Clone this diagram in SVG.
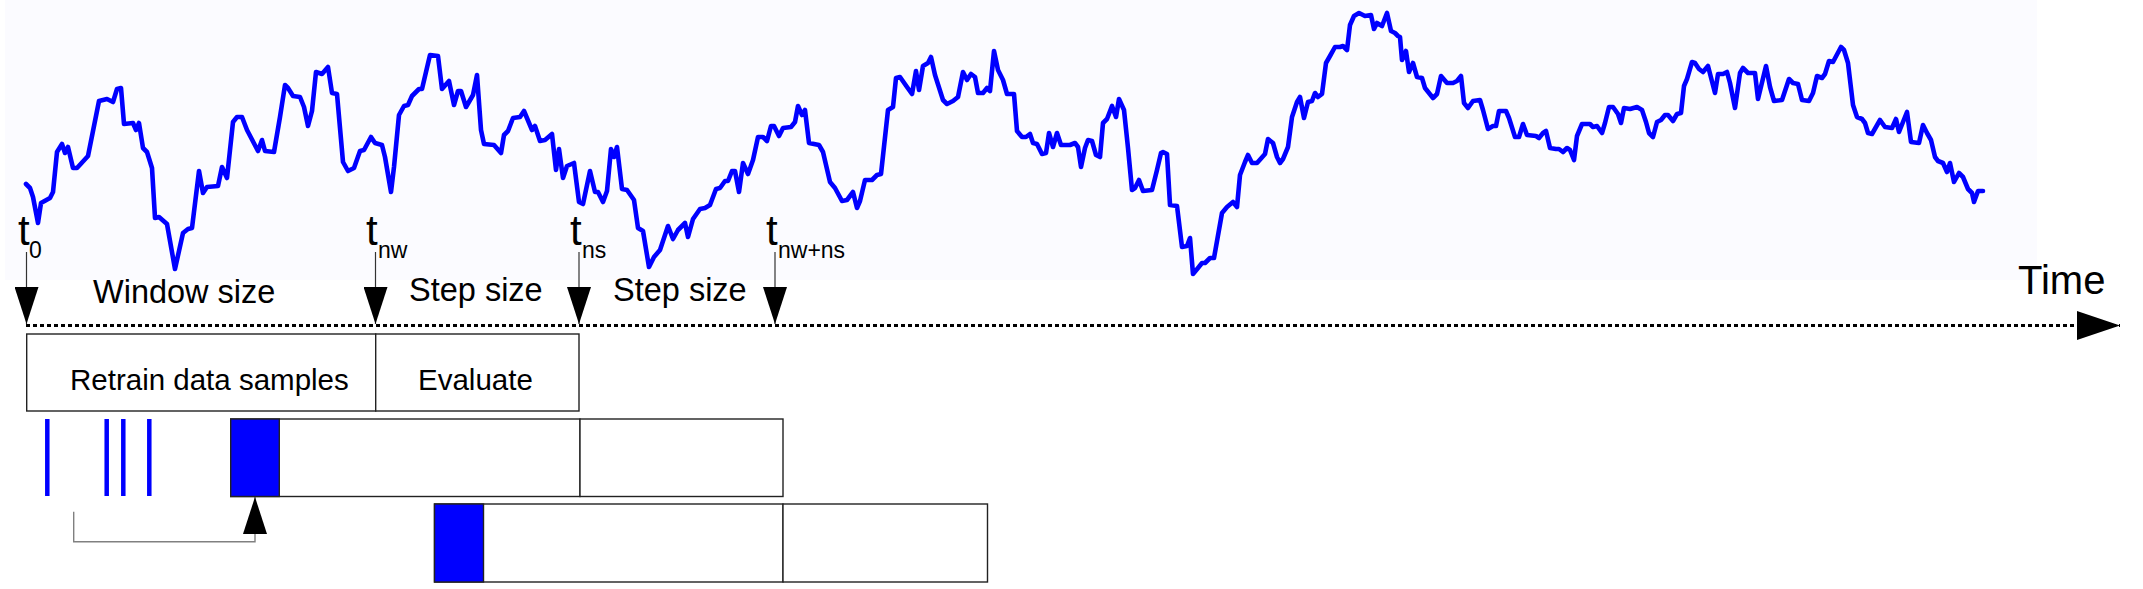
<svg xmlns="http://www.w3.org/2000/svg" width="2143" height="589" viewBox="0 0 2143 589">
<style>
text{font-family:"Liberation Sans",Arial,sans-serif;fill:#000}
.t{font-size:42px}
.sub{font-size:23px}
.lbl{font-size:32.5px}
.cell{font-size:29.5px}
.box{fill:#fff;stroke:#222;stroke-width:1.4}
.blue{fill:#0000ff;stroke:#222;stroke-width:1.4}
.bar{stroke:#0000ff;stroke-width:4.5}
.tick{stroke:#333;stroke-width:1.2;fill:none}
</style>
<defs>
<marker id="ah" viewBox="0 0 37 24" refX="37" refY="12" markerWidth="37" markerHeight="24" markerUnits="userSpaceOnUse" orient="auto">
<path d="M0,0 L37,12 L0,24 Z" fill="#000"/>
</marker>
<marker id="ahTime" viewBox="0 0 43 29" refX="43" refY="14.5" markerWidth="43" markerHeight="29" markerUnits="userSpaceOnUse" orient="auto">
<path d="M0,0 L43,14.5 L0,29 Z" fill="#000"/>
</marker>
</defs>
<rect x="5" y="0" width="2032" height="280" fill="#fbfbff"/>
<g id="series">
<polyline fill="none" stroke="#0000ff" stroke-width="4.6" stroke-linejoin="round" stroke-linecap="round" points="26,184 30,188 33,197 38,223 41,203 50,198 53,192 57,152 62,144 65,153 68,147 73,168 77,168 88,156 99,101 107,99 113,102 117,89 121,88 124,124 133,123 136,130 139,123 143,148 147,152 152,168 155,218 159,217 167,224 175,269 183,233 188,229 192,228 199,171 203,193 207,187 218,186 222,167 227,178 233,122 237,117 242,117 247,130 258,151 262,140 265,151 274,152 280,117 285,85 288,88 293,96 300,97 304,107 308,126 312,111 316,72 322,74 328,67 332,93 337,94 343,162 348,171 354,168 360,151 364,150 371,137 375,143 382,145 385,157 391,192 394,167 399,115 404,106 408,105 412,96 419,89 422,89 430,55 438,56 442,89 449,81 454,105 458,91 461,91 466,107 473,95 477,75 481,130 484,144 494,145 501,153 504,135 508,131 513,118 520,117 524,111 532,130 535,126 540,141 545,140 552,134 556,170 559,149 563,178 567,166 574,163 579,202 583,204 590,171 595,192 598,192 603,202 607,191 611,149 614,157 617,147 622,189 627,190 634,200 638,228 643,231 649,267 654,257 660,250 668,226 673,239 678,230 685,223 688,237 693,219 700,209 705,208 710,205 716,189 720,188 725,181 728,181 732,171 735,171 739,192 743,163 748,174 753,160 758,137 763,137 767,141 771,126 774,126 779,136 783,128 791,127 795,122 798,106 802,115 805,110 809,143 819,145 823,152 830,182 835,188 842,201 847,200 853,192 857,208 860,201 865,180 872,180 877,175 881,174 888,110 893,107 896,78 900,77 907,87 912,94 916,71 919,90 923,66 928,63 931,57 935,75 943,100 947,104 953,101 958,97 963,72 967,80 971,74 975,77 978,93 983,93 987,88 990,91 994,51 998,70 1003,80 1007,94 1014,94 1017,131 1022,137 1026,137 1030,134 1033,143 1037,144 1042,154 1046,153 1049,133 1053,147 1057,133 1061,145 1070,145 1075,143 1078,147 1081,167 1085,148 1088,140 1092,141 1096,155 1100,157 1103,123 1107,119 1112,106 1116,117 1119,99 1124,110 1128,148 1132,190 1135,188 1139,180 1143,191 1152,190 1157,170 1161,153 1163,152 1167,154 1170,205 1177,206 1182,247 1187,246 1190,238 1193,274 1198,268 1202,263 1205,263 1210,258 1214,258 1222,213 1227,207 1233,202 1237,207 1240,175 1245,162 1248,155 1252,163 1257,163 1265,154 1268,139 1273,143 1277,157 1280,163 1283,159 1288,147 1292,117 1297,102 1300,97 1304,118 1308,102 1312,101 1315,93 1318,97 1322,94 1326,63 1330,56 1335,47 1340,47 1343,46 1347,50 1350,25 1354,16 1359,13 1365,16 1371,15 1374,29 1377,23 1382,26 1387,13 1391,31 1395,33 1398,36 1400,37 1402,60 1406,51 1409,72 1413,63 1417,77 1422,78 1425,88 1433,98 1437,94 1441,76 1447,83 1453,83 1457,81 1461,76 1464,103 1468,108 1473,101 1480,100 1483,110 1488,129 1493,126 1496,126 1499,111 1506,111 1509,118 1515,137 1519,137 1523,124 1527,135 1536,136 1539,138 1543,133 1546,131 1550,148 1556,149 1559,149 1563,152 1567,148 1570,150 1574,160 1577,136 1582,124 1590,124 1593,127 1597,126 1602,133 1605,123 1609,107 1613,107 1618,114 1621,123 1624,108 1630,109 1637,107 1642,110 1646,122 1649,133 1653,137 1657,122 1661,120 1665,115 1668,115 1673,121 1677,114 1681,113 1684,86 1687,79 1692,62 1695,63 1699,69 1703,72 1708,66 1715,93 1718,74 1723,74 1727,72 1730,83 1735,108 1740,73 1743,68 1748,73 1755,73 1758,99 1766,66 1770,87 1774,101 1782,100 1789,79 1793,83 1798,84 1802,100 1809,101 1813,93 1817,76 1822,78 1825,74 1829,61 1833,62 1841,47 1844,50 1848,63 1853,105 1857,117 1862,119 1865,123 1868,133 1872,134 1880,120 1885,127 1892,128 1896,119 1899,132 1907,112 1911,142 1919,143 1923,125 1927,133 1931,140 1935,157 1938,161 1943,163 1947,172 1950,163 1954,182 1959,173 1963,177 1968,189 1972,193 1974,202 1978,191 1983,191"/>
</g>
<g id="label-t0"><text class="t" x="18" y="245">t</text><text class="sub" x="29" y="258">0</text></g>
<g id="label-tnw"><text class="t" x="366" y="245">t</text><text class="sub" x="378" y="258">nw</text></g>
<g id="label-tns"><text class="t" x="570" y="245">t</text><text class="sub" x="582" y="258">ns</text></g>
<g id="label-tnwns"><text class="t" x="766" y="245">t</text><text class="sub" x="778" y="258">nw+ns</text></g>
<g id="label-window"><text class="lbl" x="93" y="303">Window size</text></g>
<g id="label-step1"><text class="lbl" x="409" y="301">Step size</text></g>
<g id="label-step2"><text class="lbl" x="613" y="301">Step size</text></g>
<g id="label-time"><text x="2018" y="294" font-size="40">Time</text></g>
<g id="connectors">
<path d="M26,325.5 H2120" stroke="#000" stroke-width="3" stroke-dasharray="4 3" fill="none" marker-end="url(#ahTime)"/>
<path class="tick" d="M26.5,252 V324" marker-end="url(#ah)"/>
<path class="tick" d="M375.5,252 V324" marker-end="url(#ah)"/>
<path class="tick" d="M579,252 V324" marker-end="url(#ah)"/>
<path class="tick" d="M775,252 V324" stroke="#555" marker-end="url(#ah)"/>
<path d="M73.7,511.7 V541.7 H255 V497" stroke="#808080" stroke-width="1.4" fill="none" marker-end="url(#ah)"/>
</g>
<g id="window-1">
<rect class="box" x="26.7" y="334" width="349" height="77"/>
<rect class="box" x="375.7" y="334" width="203.3" height="77"/>
<text class="cell" x="70" y="389.5">Retrain data samples</text>
<text class="cell" x="418" y="389.5">Evaluate</text>
</g>
<g id="samples">
<line class="bar" x1="47.3" y1="419" x2="47.3" y2="496"/>
<line class="bar" x1="106.7" y1="419" x2="106.7" y2="496"/>
<line class="bar" x1="123.3" y1="419" x2="123.3" y2="496"/>
<line class="bar" x1="149.3" y1="419" x2="149.3" y2="496"/>
</g>
<g id="window-2">
<rect class="box" x="230.7" y="419" width="349.3" height="77.5"/>
<rect class="box" x="580" y="419" width="203" height="77.5"/>
<rect class="blue" x="230.7" y="419" width="48.6" height="77.5"/>
</g>
<g id="window-3">
<rect class="box" x="434.5" y="504" width="348.5" height="78"/>
<rect class="box" x="783" y="504" width="204.5" height="78"/>
<rect class="blue" x="434.5" y="504" width="49" height="78"/>
</g>
</svg>
